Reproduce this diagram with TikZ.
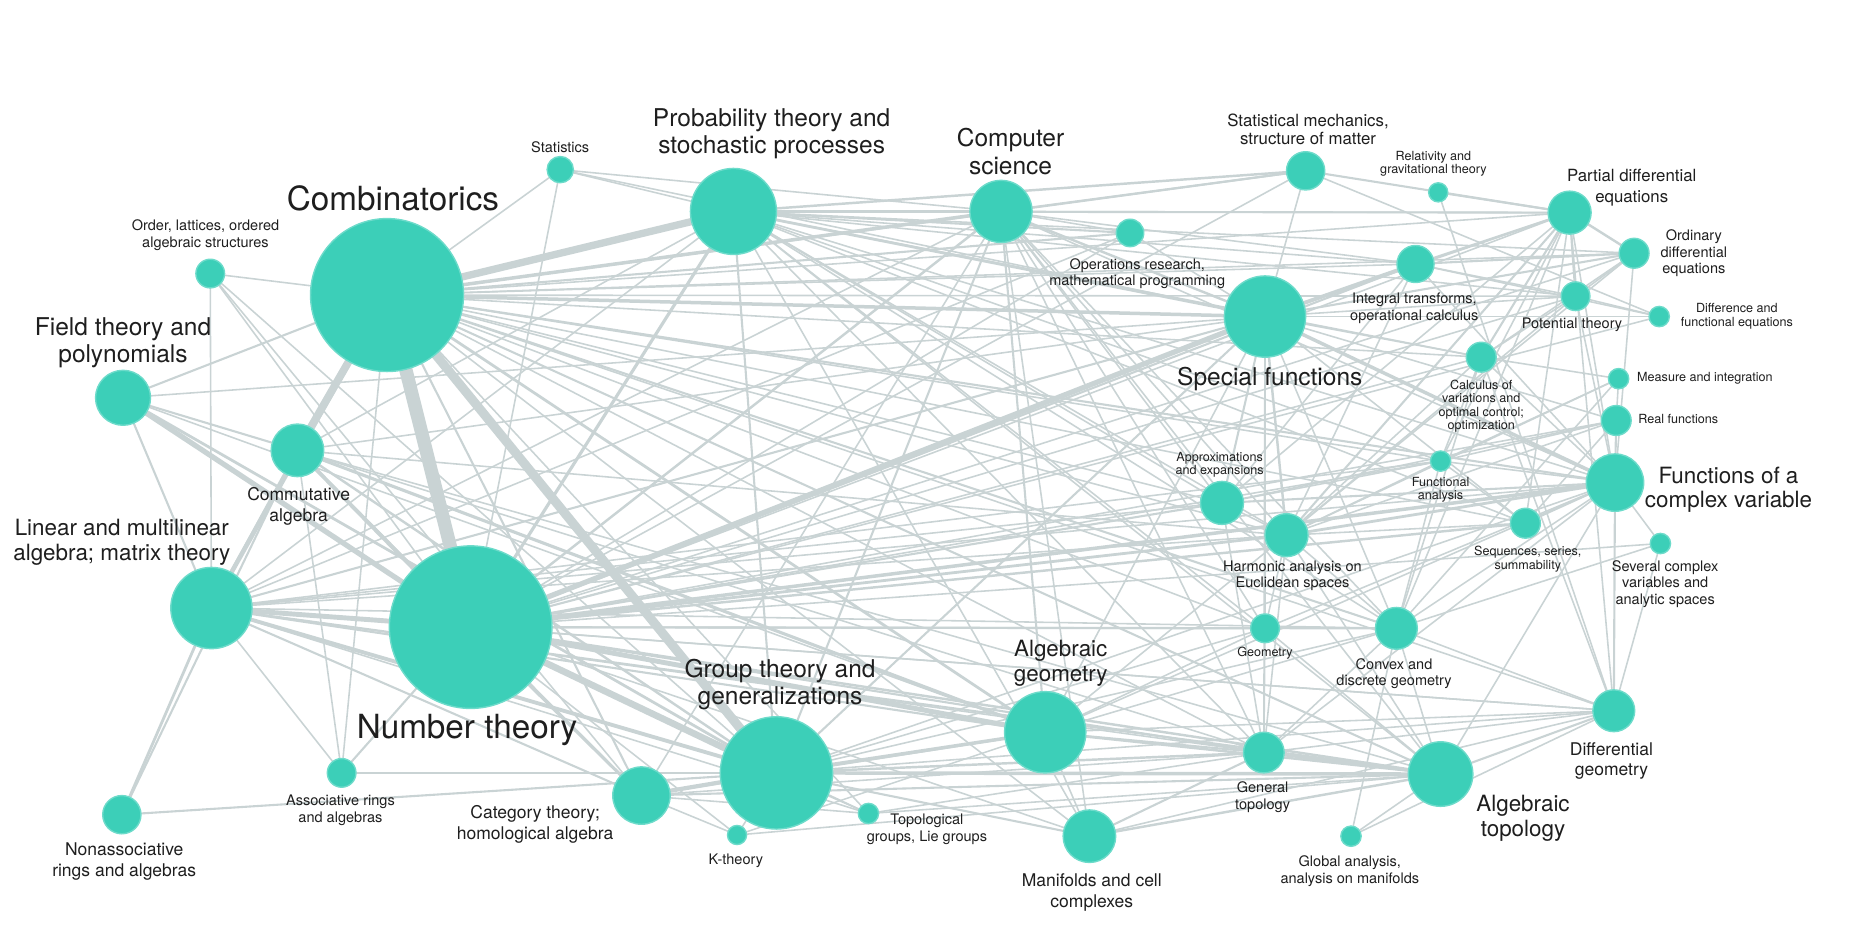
\documentclass[tikz,border=0pt]{standalone}
\usepackage{fontspec}
\setsansfont{TeX Gyre Heros}
\usetikzlibrary{backgrounds}
\definecolor{topicteal}{HTML}{3CCFB8}
\definecolor{linkgray}{HTML}{C9D3D4}
\definecolor{inkdark}{HTML}{1E1E1E}
\tikzset{
  topic/.style={circle, fill=topicteal, draw=topicteal!75!white, line width=0.4pt, inner sep=0pt},
  link/.style={color=linkgray, line cap=round},
  lbl/.style={text=inkdark, align=center, inner sep=0pt},
  % label sizes, largest to smallest
  lblA/.style={lbl, font=\sffamily\fontsize{9.5}{11}\selectfont},
  lblB/.style={lbl, font=\sffamily\fontsize{7}{7.9}\selectfont},
  lblC/.style={lbl, font=\sffamily\fontsize{6.4}{7.1}\selectfont},
  lblD/.style={lbl, font=\sffamily\fontsize{5}{5.9}\selectfont},
  lblE/.style={lbl, font=\sffamily\fontsize{4.15}{4.8}\selectfont},
  lblF/.style={lbl, font=\sffamily\fontsize{3.6}{3.9}\selectfont},
}

\begin{document}
\begin{tikzpicture}[x=0.012cm,y=-0.012cm]
  \useasboundingbox (0,0) rectangle (1568,774);
  % the topics
  \foreach \n/\x/\y/\r in {
      comb/324/247/64, numth/394/525/68, prob/614/177/36, cs/838/177/26,
      group/650/647/47, alggeom/875/613/34, special/1059/265/34,
      linear/177/509/34, field/103/333/23, comm/249/377/22, cat/537/666/24,
      manif/912/700/22, algtop/1206/648/27, complex/1352/404/24,
      stat/469/142/11, order/176/229/12, assoc/286/647/12, nonassoc/102/682/16,
      ktheory/617/699/8, topgrp/727/681/8.5, opres/946/195/11.5,
      statmech/1093/143/16, relat/1204/161/8, pde/1314/178/18, ode/1368/212/12.5,
      intgr/1185/221/15.5, potential/1319/248/12, diffeq/1389/265/8.5,
      calcvar/1240/299/12.5, measure/1355/317/8.5, realfn/1353/352/12.5,
      funcan/1206/386/8.5, approx/1023/421/18, harmonic/1077/448/18,
      seqs/1277/438/12.5, several/1390/455/8.5, geometry/1059/526/12,
      convex/1169/526/17.5, diffgeom/1351/595/17.5, gentop/1058/630/17,
      global/1131/700/8.5}
    \node[topic, minimum size=\r*0.24mm] (\n) at (\x,\y) {};

  \begin{scope}[on background layer]
    % heavy links
    \foreach \a/\b/\w in {
        comb/numth/3.8, comb/group/2.6, comb/comm/2.2, comb/prob/2.1,
        numth/group/1.9, numth/special/1.5, field/numth/1.5, numth/linear/1.4,
        numth/alggeom/1.4, linear/comb/1.3, group/cat/1.2, numth/comm/1.1,
        linear/group/1.1, intgr/special/1.1, special/complex/1.0,
        numth/complex/1.0, comb/cs/1.0, comb/special/1.0, group/algtop/1.0,
        group/alggeom/1.0, numth/prob/0.9, numth/cat/0.9, comm/alggeom/0.9,
        comb/alggeom/0.8, linear/comm/0.8, linear/nonassoc/0.8, field/group/0.8,
        prob/cs/0.8, prob/special/0.8, numth/harmonic/0.8, complex/harmonic/0.8,
        algtop/gentop/0.8, group/assoc/0.7, prob/statmech/0.7, cs/special/0.7,
        numth/cs/0.7, numth/seqs/0.7, numth/algtop/0.7, pde/ode/0.7,
        special/harmonic/0.7, algtop/manif/0.7, algtop/alggeom/0.7,
        gentop/group/0.7, comm/group/0.7}
      \draw[link, line width=\w pt] (\a) -- (\b);
    % ordinary links
    \foreach \a/\b in {
        comb/field, comb/statmech, comb/opres, comb/cat, comb/convex,
        comb/complex, comb/algtop, numth/assoc, numth/approx, numth/geometry,
        numth/convex, numth/gentop, numth/intgr, linear/field, linear/cat,
        linear/alggeom, linear/special, linear/algtop, field/comm,
        comm/nonassoc, comm/cat, prob/group, prob/pde, prob/opres,
        cs/statmech, cs/alggeom, cs/group, statmech/pde, relat/pde,
        pde/potential, pde/calcvar, pde/intgr, pde/special, pde/harmonic,
        ode/intgr, ode/special, special/approx, special/group, realfn/complex,
        complex/diffgeom, complex/approx, geometry/convex, diffgeom/algtop,
        gentop/alggeom, gentop/manif, group/nonassoc, group/manif,
        alggeom/cat, algtop/cat}
      \draw[link, line width=0.6pt] (\a) -- (\b);
    % faint links
    \foreach \a/\b in {
        comb/stat, comb/order, comb/intgr, comb/pde, comb/ode, comb/potential,
        comb/assoc, comb/gentop, comb/geometry, comb/harmonic, comb/approx,
        comb/seqs, comb/topgrp, comb/manif, comb/calcvar, comb/funcan,
        comb/diffgeom, numth/order, numth/ktheory, numth/topgrp, numth/manif,
        numth/diffgeom, numth/opres, numth/funcan, numth/realfn,
        numth/statmech, numth/several, numth/diffeq, numth/ode, numth/pde,
        numth/potential, numth/calcvar, numth/stat, linear/assoc, linear/prob,
        linear/cs, linear/gentop, linear/harmonic, linear/complex,
        linear/convex, linear/approx, linear/order, linear/opres,
        linear/diffgeom, linear/funcan, linear/topgrp, field/alggeom,
        field/special, comm/assoc, comm/special, comm/prob, comm/harmonic,
        comm/algtop, comm/gentop, order/group, order/cat, prob/intgr,
        prob/potential, prob/harmonic, prob/approx, prob/convex, prob/complex,
        prob/seqs, prob/ode, prob/calcvar, prob/funcan, prob/gentop,
        prob/manif, prob/stat, prob/algtop, prob/geometry, cs/opres,
        cs/convex, cs/gentop, cs/harmonic, cs/complex, cs/approx, cs/intgr,
        cs/pde, cs/algtop, cs/geometry, cs/cat, cs/manif, cs/stat,
        stat/special, statmech/special, statmech/diffeq, relat/diffgeom,
        pde/complex, pde/convex, pde/diffgeom, pde/funcan, pde/seqs,
        pde/approx, ode/potential, ode/calcvar, ode/harmonic, ode/complex,
        intgr/potential, intgr/diffeq, intgr/complex, intgr/harmonic,
        intgr/approx, special/opres, special/potential, special/diffeq,
        special/calcvar, special/seqs, special/realfn, special/geometry,
        special/gentop, special/alggeom, special/convex, potential/diffeq,
        potential/calcvar, potential/complex, potential/harmonic,
        calcvar/measure, calcvar/funcan, calcvar/diffgeom, calcvar/convex,
        calcvar/complex, calcvar/harmonic, measure/realfn, measure/funcan,
        measure/convex, measure/harmonic, realfn/funcan, realfn/harmonic,
        realfn/seqs, realfn/approx, complex/seqs, complex/funcan,
        complex/several, complex/convex, complex/gentop, complex/algtop,
        complex/geometry, complex/alggeom, complex/group, several/convex,
        several/diffgeom, funcan/harmonic, funcan/convex, funcan/seqs,
        funcan/approx, approx/harmonic, approx/gentop, harmonic/geometry,
        harmonic/convex, harmonic/gentop, harmonic/alggeom, harmonic/algtop,
        harmonic/seqs, geometry/gentop, geometry/alggeom, geometry/algtop,
        geometry/group, convex/algtop, convex/global, convex/diffgeom,
        convex/gentop, convex/alggeom, convex/group, diffgeom/gentop,
        diffgeom/manif, diffgeom/global, diffgeom/alggeom, diffgeom/group,
        algtop/global, algtop/ktheory, algtop/topgrp, gentop/cat,
        gentop/topgrp, alggeom/manif, alggeom/ktheory, group/ktheory,
        group/topgrp, cat/ktheory, cat/topgrp}
      \draw[link, line width=0.45pt] (\a) -- (\b);
  \end{scope}

  % labels
  \node[lblA] (comb-l) at (329,166) {Combinatorics};
  \node[lblA] (numth-l) at (391,611) {Number theory};
  \node[lblB] (prob-l) at (646,112) {Probability theory and\\stochastic processes};
  \node[lblB] (cs-l) at (846,127) {Computer\\science};
  \node[lblB] (group-l) at (653,573) {Group theory and\\generalizations};
  \node[lblB] (special-l) at (1063,317) {Special functions};
  \node[lblB] (field-l) at (103,287) {Field theory and\\polynomials};
  \node[lblC] (linear-l) at (102,454) {Linear and multilinear\\algebra; matrix theory};
  \node[lblC] (alggeom-l) at (888,555) {Algebraic\\geometry};
  \node[lblC] (algtop-l) at (1275,685) {Algebraic\\topology};
  \node[lblC] (complex-l) at (1447,410) {Functions of a\\complex variable};
  \node[lblD, font=\sffamily\fontsize{4.8}{5.2}\selectfont] (statmech-l) at (1095,108) {Statistical mechanics,\\structure of matter};
  \node[lblD, font=\sffamily\fontsize{4.8}{5.8}\selectfont] (pde-l) at (1366,157) {Partial differential\\equations};
  \node[lblD] (comm-l) at (250,424) {Commutative\\algebra};
  \node[lblD] (manif-l) at (914,747) {Manifolds and cell\\complexes};
  \node[lblD] (cat-l) at (448,690) {Category theory;\\homological algebra};
  \node[lblD] (diffgeom-l) at (1349,637) {Differential\\geometry};
  \node[lblD] (nonassoc-l) at (104,721) {Nonassociative\\rings and algebras};
  \node[lblE] (stat-l) at (469,123) {Statistics};
  \node[lblE] (order-l) at (172,197) {Order, lattices, ordered\\algebraic structures};
  \node[lblE] (opres-l) at (952,229) {Operations research,\\mathematical programming};
  \node[lblE] (ode-l) at (1418,212) {Ordinary\\differential\\equations};
  \node[lblE] (intgr-l) at (1184,258) {Integral transforms,\\operational calculus};
  \node[lblE] (potential-l) at (1316,272) {Potential theory};
  \node[lblE] (assoc-l) at (285,678) {Associative rings\\and algebras};
  \node[lblE] (ktheory-l) at (616,721) {K-theory};
  \node[lblE] (topgrp-l) at (776,694) {Topological\\groups, Lie groups};
  \node[lblE] (gentop-l) at (1057,667) {General\\topology};
  \node[lblE] (harmonic-l) at (1082,482) {Harmonic analysis on\\Euclidean spaces};
  \node[lblE] (convex-l) at (1167,564) {Convex and\\discrete geometry};
  \node[lblE] (several-l) at (1394,489) {Several complex\\variables and\\analytic spaces};
  \node[lblE] (global-l) at (1130,729) {Global analysis,\\analysis on manifolds};
  \node[lblF] (relat-l) at (1200,137) {Relativity and\\gravitational theory};
  \node[lblF] (diffeq-l) at (1454,265) {Difference and\\functional equations};
  \node[lblF] (calcvar-l) at (1240,340) {Calculus of\\variations and\\optimal control;\\optimization};
  \node[lblF, anchor=west] (measure-l) at (1370,317) {Measure and integration};
  \node[lblF, anchor=west] (realfn-l) at (1371,351) {Real functions};
  \node[lblF] (approx-l) at (1021,389) {Approximations\\and expansions};
  \node[lblF] (geometry-l) at (1059,547) {Geometry};
  \node[lblF] (funcan-l) at (1206,410) {Functional\\analysis};
  \node[lblF] (seqs-l) at (1279,468) {Sequences, series,\\summability};
\end{tikzpicture}
\end{document}
